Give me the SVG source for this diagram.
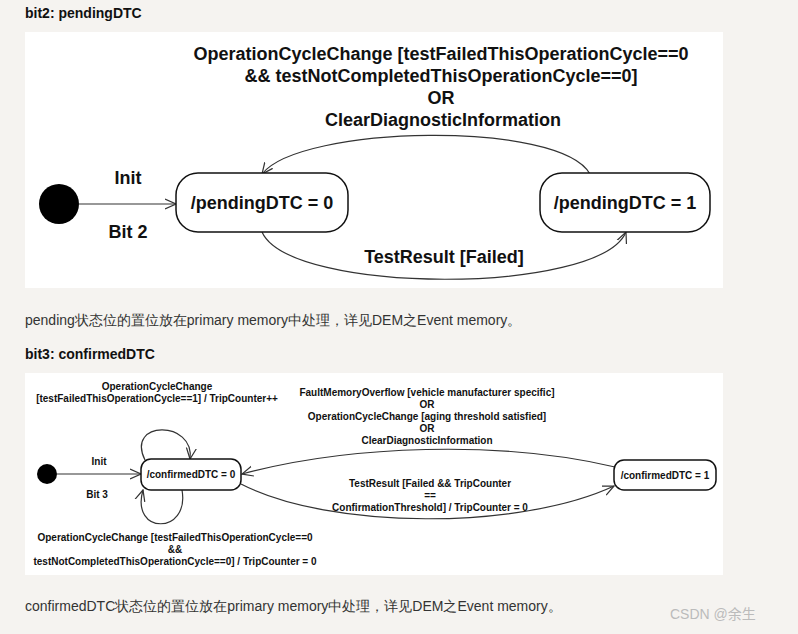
<svg xmlns="http://www.w3.org/2000/svg" width="798" height="634" viewBox="0 0 798 634">
<style>
text{font-family:"Liberation Sans",Arial,sans-serif;fill:#111}
.h{font-weight:bold;font-size:14px}
.p{font-size:14px;fill:#333}
.L{font-weight:bold;font-size:18px;text-anchor:middle}
.s{font-weight:bold;font-size:10px;text-anchor:middle}
.box{fill:#fff;stroke:#111;stroke-width:1.5}
.c{fill:none;stroke:#333;stroke-width:1.2}
</style>
<defs>
<marker id="a" viewBox="0 0 12 12" refX="11" refY="6" markerWidth="12" markerHeight="12" markerUnits="userSpaceOnUse" orient="auto"><path d="M0,1 L11,6 L0,11" fill="none" stroke="#333" stroke-width="1.2"/></marker>
</defs>
<rect width="798" height="634" fill="#f5f3f0"/>
<text class="h" x="25" y="18">bit2: pendingDTC</text>
<rect x="25" y="32" width="698" height="256" fill="#fff"/>
<text class="p" x="25" y="325">pending状态位的置位放在primary memory中处理，详见DEM之Event memory。</text>
<text class="h" x="25" y="359">bit3: confirmedDTC</text>
<rect x="25" y="373" width="698" height="202" fill="#fff"/>
<text class="p" x="25" y="611">confirmedDTC状态位的置位放在primary memory中处理，详见DEM之Event memory。</text>
<text x="670" y="619" style="font-size:14px;fill:#bbb;font-family:'Liberation Sans','Noto Sans CJK SC',sans-serif">CSDN @余生</text>

<g id="connectors">
<line class="c" x1="79" y1="204" x2="176" y2="204" marker-end="url(#a)"/>
<path class="c" d="M590,174 C560,120 300,125 262,174" marker-end="url(#a)"/>
<path class="c" d="M262,232 C290,295 600,295 626,232" marker-end="url(#a)"/>
<line class="c" x1="57" y1="474" x2="141" y2="474" marker-end="url(#a)"/>
<path class="c" d="M145,460 C125,420 195,420 190,459" marker-end="url(#a)"/>
<path class="c" d="M182,490 C190,535 130,535 143,490" marker-end="url(#a)"/>
<path class="c" d="M615,467 C500,440 350,445 242,474" marker-end="url(#a)"/>
<path class="c" d="M241,484 C330,530 520,530 614,486" marker-end="url(#a)"/>
</g>

<g id="t2-labels">
<text class="L" x="441" y="60">OperationCycleChange [testFailedThisOperationCycle==0</text>
<text class="L" x="441" y="82">&amp;&amp; testNotCompletedThisOperationCycle==0]</text>
<text class="L" x="441" y="104">OR</text>
<text class="L" x="443" y="126">ClearDiagnosticInformation</text>
<text class="L" x="128" y="184">Init</text>
<text class="L" x="128" y="238">Bit 2</text>
<text class="L" x="444" y="263">TestResult [Failed]</text>
</g>
<g id="init2"><circle cx="59" cy="204" r="20" fill="#000"/></g>
<g id="pending0"><rect class="box" x="176" y="173" width="172" height="59" rx="22"/><text class="L" x="262" y="209">/pendingDTC = 0</text></g>
<g id="pending1"><rect class="box" x="540" y="173" width="170" height="59" rx="22"/><text class="L" x="625" y="209">/pendingDTC = 1</text></g>

<g id="t3-labels">
<text class="s" x="157" y="390">OperationCycleChange</text>
<text class="s" x="157" y="402">[testFailedThisOperationCycle==1] / TripCounter++</text>
<text class="s" x="175" y="541">OperationCycleChange [testFailedThisOperationCycle==0</text>
<text class="s" x="175" y="553">&amp;&amp;</text>
<text class="s" x="175" y="565">testNotCompletedThisOperationCycle==0] / TripCounter = 0</text>
<text class="s" x="99" y="465">Init</text>
<text class="s" x="97" y="498">Bit 3</text>
<text class="s" x="427" y="396">FaultMemoryOverflow [vehicle manufacturer specific]</text>
<text class="s" x="427" y="408">OR</text>
<text class="s" x="427" y="420">OperationCycleChange [aging threshold satisfied]</text>
<text class="s" x="427" y="432">OR</text>
<text class="s" x="427" y="444">ClearDiagnosticInformation</text>
<text class="s" x="430" y="487">TestResult [Failed &amp;&amp; TripCounter</text>
<text class="s" x="430" y="499">==</text>
<text class="s" x="430" y="511">ConfirmationThreshold] / TripCounter = 0</text>
</g>
<g id="init3"><circle cx="47" cy="474" r="10" fill="#000"/></g>
<g id="confirmed0"><rect class="box" x="141" y="459" width="100" height="31" rx="10"/><text class="s" x="191" y="478">/confirmedDTC = 0</text></g>
<g id="confirmed1"><rect class="box" x="614" y="460" width="102" height="30" rx="10"/><text class="s" x="665" y="479">/confirmedDTC = 1</text></g>
</svg>
